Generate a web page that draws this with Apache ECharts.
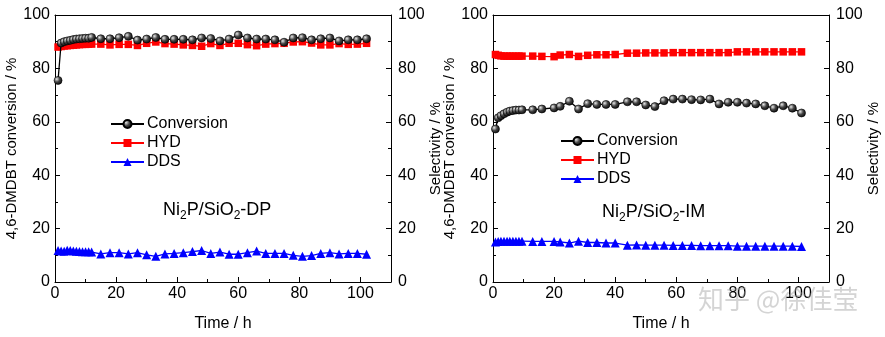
<!DOCTYPE html>
<html>
<head>
<meta charset="utf-8">
<script src="https://cdn.jsdelivr.net/npm/echarts@6/dist/echarts.min.js"></script>
<style>html,body{margin:0;padding:0;background:#fff}#c{width:885px;height:337px}</style>
</head>
<body>
<div id="c"></div>
<script>
// ---- Data: left panel (Ni2P/SiO2-DP) ----
const timeDP = [1,2,3,4,5,6,7,8,9,10,11,12,15,18,21,24,27,30,33,36,39,42,45,48,51,54,57,60,63,66,69,72,75,78,81,84,87,90,93,96,99,102];
const convDP = [75.5,89.5,90.0,90.3,90.5,90.8,91.0,91.1,91.2,91.3,91.3,91.6,91.1,91.1,91.5,92.0,90.6,91.0,91.6,90.9,90.9,90.9,90.7,91.4,91.2,90.3,91.0,92.5,91.4,91.0,91.0,90.7,89.8,91.4,91.5,90.7,91.1,91.4,90.3,90.7,90.7,91.1];
const hydDP = [88.0,88.2,88.4,88.5,88.6,88.7,88.8,88.9,89.0,89.0,89.1,89.1,89.1,88.8,89.0,89.0,88.6,89.4,89.9,89.3,89.1,88.8,88.6,88.3,89.3,88.6,89.4,89.4,88.9,88.5,89.1,89.3,89.4,89.9,90.0,89.5,88.8,88.8,89.3,89.0,89.1,89.4];
const ddsDP = [11.8,11.6,11.5,11.9,11.8,11.6,11.5,11.4,11.3,11.3,11.3,11.2,10.5,11.0,11.0,10.5,11.0,10.2,9.6,10.5,10.7,11.0,11.4,11.8,10.7,11.2,10.4,10.4,11.0,11.6,10.7,10.7,10.7,10.0,9.6,9.9,10.7,11.0,10.5,10.7,10.7,10.4];
// ---- Data: right panel (Ni2P/SiO2-IM) ----
const timeIM = [0.8,1.7,2.6,3.6,4.6,5.5,6.5,7.5,8.5,9.5,13,16,20,22,25,28,31,34,37,40,44,47,50,53,56,59,62,65,68,71,74,77,80,83,86,89,92,95,98,101];
const convIM = [57.3,61.5,62.3,63.0,63.6,64.0,64.2,64.4,64.4,64.5,64.5,64.8,65.2,65.8,67.7,64.8,66.8,66.5,66.5,66.5,67.5,67.5,66.3,65.7,67.9,68.5,68.5,68.3,68.2,68.5,66.7,67.3,67.3,67.0,66.7,66.0,65.1,66.0,65.1,63.3];
const hydIM = [85.2,84.9,84.7,84.6,84.6,84.6,84.6,84.6,84.6,84.6,84.6,84.5,84.4,85.0,85.2,84.5,84.9,85.1,85.1,85.2,85.7,85.7,85.8,85.8,85.8,85.9,85.9,85.9,85.9,85.9,85.9,85.9,86.2,86.2,86.2,86.2,86.2,86.2,86.2,86.2];
const ddsIM = [15.0,15.2,15.3,15.3,15.3,15.3,15.3,15.3,15.3,15.3,15.2,15.2,15.2,15.0,14.6,15.3,14.8,14.8,14.6,14.6,13.8,13.9,13.8,13.8,13.8,13.7,13.7,13.7,13.6,13.6,13.6,13.6,13.4,13.4,13.4,13.4,13.4,13.4,13.4,13.3];
// ---- Labels ----
const seriesNames = ['Conversion','HYD','DDS'];
const xTitle = 'Time / h';
const yLeftTitle = '4,6-DMDBT conversion / %';
const yRightTitle = 'Selectivity / %';

const FONT = '"Liberation Sans", Arial, sans-serif';
const chart = echarts.init(document.getElementById('c'));
const pair = (t, v) => t.map((x, i) => [x, v[i]]);

const ballColor = {type:'radial', x:0.35, y:0.35, r:0.75,
  colorStops:[{offset:0,color:'#e8e8e8'},{offset:0.45,color:'#444'},{offset:1,color:'#000'}]};
const styles = [
  {color:'#000', symbol:'circle', symbolSize:8, item:{color:ballColor, borderColor:'#000', borderWidth:0.6}},
  {color:'#f00', symbol:'rect', symbolSize:7.5, item:{color:'#f00'}},
  {color:'#00f', symbol:'triangle', symbolSize:9, item:{color:'#00f'}}
];

const grids = [
  {left:55, right:494, top:15, bottom:51},
  {left:493, right:56, top:15, bottom:51}
];

function xAxisBottom(gi){
  return {type:'value', gridIndex:gi, min:0, max:110, interval:20, position:'bottom',
    name:xTitle, nameLocation:'middle', nameGap:34,
    nameTextStyle:{fontFamily:FONT, fontSize:16, color:'#000'},
    axisLine:{show:true, onZero:false, lineStyle:{color:'#000', width:1}},
    axisTick:{show:true, inside:true, length:5, lineStyle:{color:'#000'}},
    minorTick:{show:true, splitNumber:2, length:3, lineStyle:{color:'#000'}},
    splitLine:{show:false},
    axisLabel:{fontFamily:FONT, fontSize:16, color:'#000', margin:4,
      formatter: v => (v % 20 === 0 && v <= 100) ? String(v) : ''}};
}
function xAxisTop(gi){
  return {type:'value', gridIndex:gi, min:0, max:110, position:'top',
    axisLine:{show:true, onZero:false, lineStyle:{color:'#000', width:1}},
    axisTick:{show:false}, axisLabel:{show:false}, splitLine:{show:false}};
}
function yAxis(gi, side){
  return {type:'value', gridIndex:gi, min:0, max:100, interval:20, position:side,
    name: side === 'left' ? yLeftTitle : yRightTitle,
    nameLocation:'middle', nameGap: 34, nameRotate:90,
    nameTextStyle:{fontFamily:FONT, fontSize:15, color:'#000'},
    axisLine:{show:true, onZero:false, lineStyle:{color:'#000', width:1}},
    axisTick:{show:true, inside:true, length:5, lineStyle:{color:'#000'}},
    minorTick:{show:true, splitNumber:2, length:3, lineStyle:{color:'#000'}},
    splitLine:{show:false},
    axisLabel:{fontFamily:FONT, fontSize:16, color:'#000', margin: side === 'left' ? 5 : 7}};
}

function makeSeries(gi, t, arrs){
  return arrs.map((v, k) => ({
    name: seriesNames[k], type:'line', xAxisIndex: gi*2, yAxisIndex: gi*2,
    data: pair(t, v), symbol: styles[k].symbol, symbolSize: styles[k].symbolSize,
    showAllSymbol:true, z: 3 - k + 2,
    lineStyle:{color: styles[k].color, width:1.3},
    itemStyle: styles[k].item, emphasis:{disabled:true}, animation:false
  }));
}

const legendBase = {orient:'vertical', itemWidth:33, itemHeight:10, itemGap:3,
  textStyle:{fontFamily:FONT, fontSize:16, color:'#000', padding:[0,0,0,-2]},
  selectedMode:false, data: seriesNames};

const option = {
  animation:false,
  grid: grids,
  xAxis: [xAxisBottom(0), xAxisTop(0), xAxisBottom(1), xAxisTop(1)],
  yAxis: [yAxis(0,'left'), yAxis(0,'right'), yAxis(1,'left'), yAxis(1,'right')],
  legend: [
    Object.assign({}, legendBase, {left:105, top:111}),
    Object.assign({}, legendBase, {left:555, top:128})
  ],
  series: [
    ...makeSeries(0, timeDP, [convDP, hydDP, ddsDP]),
    ...makeSeries(1, timeIM, [convIM, hydIM, ddsIM])
  ],
  graphic: [
    {type:'text', left:163, top:201, style:{rich:{n:{fontFamily:FONT,fontSize:18,fill:'#000'}, s:{fontFamily:FONT,fontSize:12,fill:'#000',verticalAlign:'bottom',padding:[11,0,0,0]}}, text:'{n|Ni}{s|2}{n|P/SiO}{s|2}{n|-DP}'}},
    {type:'text', left:602, top:203, style:{rich:{n:{fontFamily:FONT,fontSize:18,fill:'#000'}, s:{fontFamily:FONT,fontSize:12,fill:'#000',verticalAlign:'bottom',padding:[11,0,0,0]}}, text:'{n|Ni}{s|2}{n|P/SiO}{s|2}{n|-IM}'}},
    {type:'text', left:698, top:286, z:100, style:{text:'知乎 @徐佳莹', fontFamily:'"Noto Sans CJK SC", sans-serif', fontSize:26, fill:'rgba(160,160,160,0.45)'}}
  ]
};
chart.setOption(option);
</script>
</body>
</html>
